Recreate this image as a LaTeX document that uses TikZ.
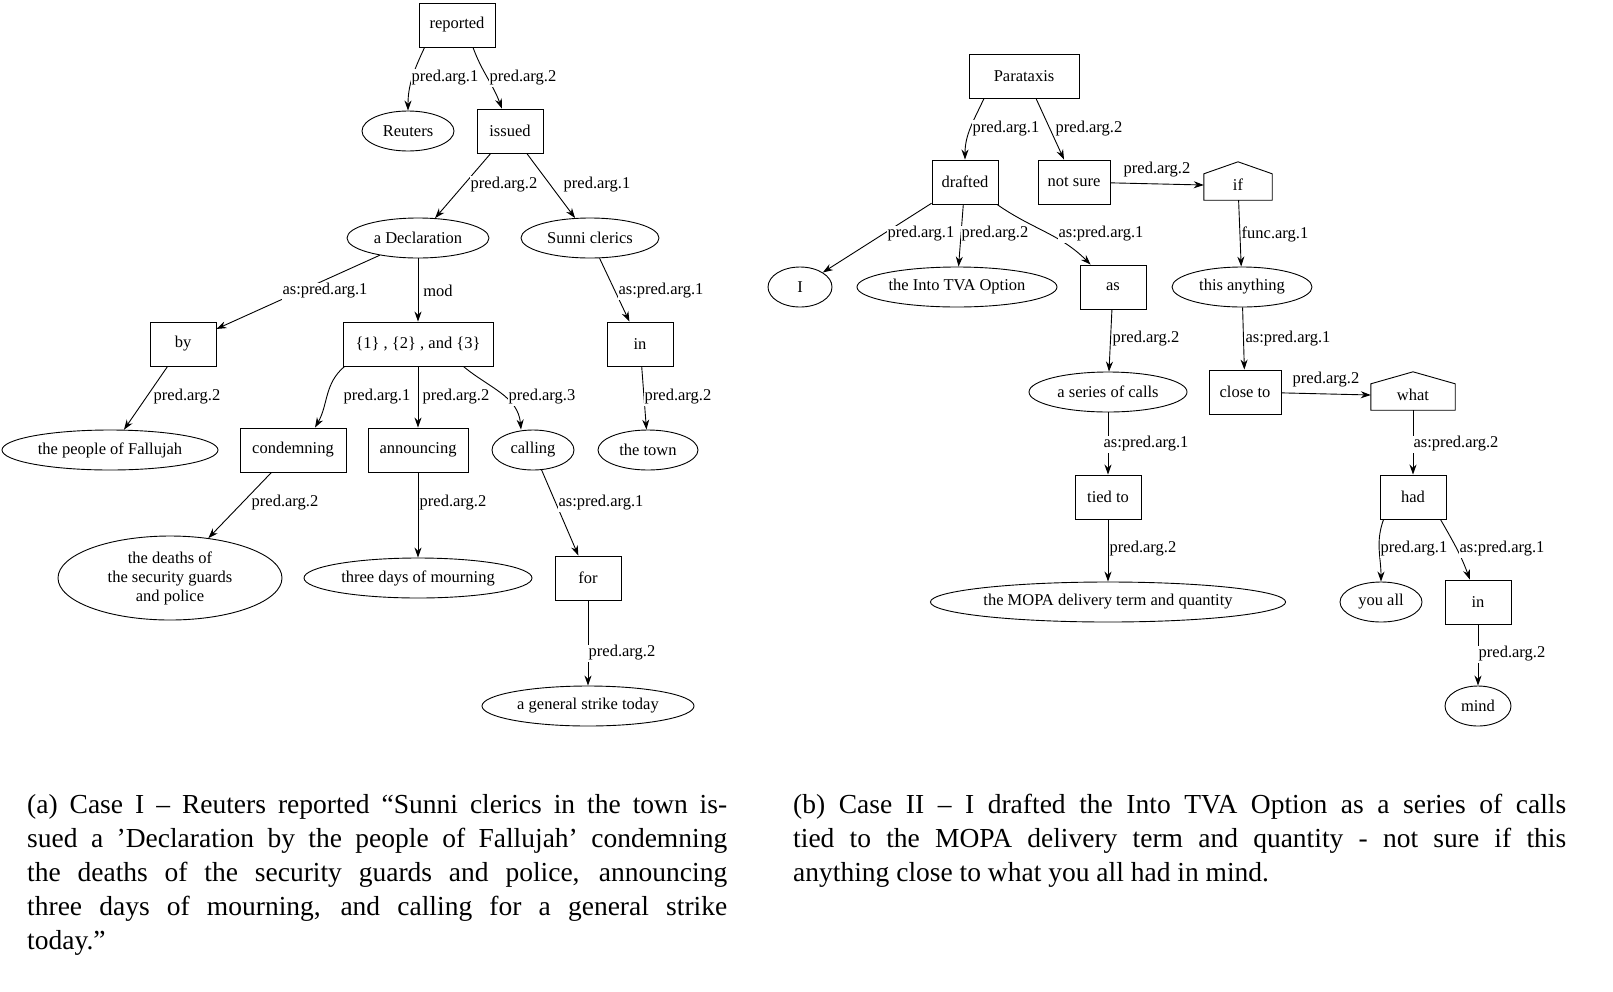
\documentclass[tikz,border=0pt]{standalone}
\usepackage{fontspec}
\setmainfont{Liberation Serif}
\usetikzlibrary{shapes.geometric,arrows.meta,calc}
\begin{document}
\begin{tikzpicture}[x=1pt,y=-1pt,
  every node/.style={font=\fontsize{16.5}{19}\selectfont},
  bx/.style={draw,rectangle,line width=0.9pt,minimum height=44pt,inner sep=2pt},
  el/.style={draw,ellipse,line width=0.9pt,minimum height=40pt,inner sep=1pt},
  hs/.style={rectangle,minimum height=30pt,inner sep=1pt},
  e/.style={line width=0.9pt,-{Stealth[length=10pt,width=7pt]}},
  lab/.style={inner sep=1pt,fill=white}]
\useasboundingbox (0,0) rectangle (1613,991);
% left
\node[bx,minimum width=76pt] (rep) at (457,25) {reported};
\node[el,minimum width=92pt] (reu) at (408,131) {Reuters};
\node[bx,minimum width=66pt] (iss) at (510,131) {issued};
\node[el,minimum width=142pt] (dec) at (418,238) {a Declaration};
\node[el,minimum width=138pt] (sun) at (590,238) {Sunni clerics};
\node[bx,minimum width=66pt] (by) at (183,344) {by};
\node[bx,minimum width=150pt] (set) at (418,344) {\{1\} , \{2\} , and \{3\}};
\node[bx,minimum width=66pt] (in1) at (640,344) {in};
\node[el,minimum width=216pt] (peo) at (110,450) {the people of Fallujah};
\node[bx,minimum width=106pt] (con) at (293,450) {condemning};
\node[bx,minimum width=100pt] (ann) at (418,450) {announcing};
\node[el,minimum width=82pt] (cal) at (533,450) {calling};
\node[el,minimum width=100pt] (town) at (648,450) {the town};
\node[el,minimum width=224pt,minimum height=84pt,align=center] (dea) at (170,578) {the deaths of\\the security guards\\and police};
\node[el,minimum width=228pt] (thr) at (418,578) {three days of mourning};
\node[bx,minimum width=66pt] (for) at (588,578) {for};
\node[el,minimum width=212pt] (gen) at (588,706) {a general strike today};

\draw[e] ($(rep.south west)+(6,0)$) to[out=-115,in=90] (reu);
\draw[e] ($(rep.south)+(16,0)$) to[out=-70,in=110] (iss);
\draw[e] (iss) -- (dec);
\draw[e] (iss) -- (sun);
\draw[e] (dec) -- (by);
\draw[e] (dec) -- (set);
\draw[e] (sun) -- (in1);
\draw[e] (by) -- (peo);
\draw[e] ($(set.south west)+(2,0)$) to[out=-140,in=60] ($(con.north)+(22,0)$);
\draw[e] (set) -- (ann);
\draw[e] ($(set.south east)+(-30,0)$) to[out=-40,in=95] ($(cal.north)+(-12,0)$);
\draw[e] (in1) -- (town);
\draw[e] (con) -- (dea);
\draw[e] (ann) -- (thr);
\draw[e] (cal) -- (for);
\draw[e] (for) -- (gen);

\node[lab] at (445,78) {pred.arg.1};
\node[lab] at (523,78) {pred.arg.2};
\node[lab] at (504,185) {pred.arg.2};
\node[lab] at (597,185) {pred.arg.1};
\node[lab] at (325,291) {as:pred.arg.1};
\node[lab] at (438,291) {mod};
\node[lab] at (661,291) {as:pred.arg.1};
\node[lab] at (187,397) {pred.arg.2};
\node[lab] at (377,397) {pred.arg.1};
\node[lab] at (456,397) {pred.arg.2};
\node[lab] at (542,397) {pred.arg.3};
\node[lab] at (678,397) {pred.arg.2};
\node[lab] at (285,503) {pred.arg.2};
\node[lab] at (453,503) {pred.arg.2};
\node[lab] at (601,503) {as:pred.arg.1};
\node[lab] at (622,653) {pred.arg.2};

% right
\node[bx,minimum width=110pt] (par) at (1024,76) {Parataxis};
\node[bx,minimum width=66pt] (dra) at (965,182) {drafted};
\node[bx,minimum width=72pt] (ns) at (1074,182) {not sure};
\node[hs,minimum width=68pt] (if) at (1238,185) {if};
\node[el,minimum width=64pt] (I) at (800,287) {I};
\node[el,minimum width=200pt] (tva) at (957,287) {the Into TVA Option};
\node[bx,minimum width=66pt] (as) at (1113,287) {as};
\node[el,minimum width=140pt] (tha) at (1242,287) {this anything};
\node[el,minimum width=158pt] (ser) at (1108,392) {a series of calls};
\node[bx,minimum width=72pt] (clo) at (1245,392) {close to};
\node[hs,minimum width=84pt] (wha) at (1413,395) {what};
\node[bx,minimum width=66pt] (tie) at (1108,497) {tied to};
\node[bx,minimum width=66pt] (had) at (1413,497) {had};
\node[el,minimum width=350pt] (mopa) at (1108,602) {the MOPA delivery term and quantity};
\node[el,minimum width=82pt] (you) at (1381,602) {you all};
\node[bx,minimum width=66pt] (in2) at (1478,602) {in};
\node[el,minimum width=66pt] (mind) at (1478,706) {mind};
\foreach \n in {if,wha}{
  \draw[line width=0.9pt] (\n.south west) -- (\n.south east) -- ($(\n.north east)+(0,4)$) -- ($(\n.north)+(0,-8)$) -- ($(\n.north west)+(0,4)$) -- cycle;}

\draw[e] ($(par.south)+(-40,0)$) to[out=-115,in=90] (dra);
\draw[e] ($(par.south)+(12,0)$) -- ($(ns.north)+(-10,0)$);
\draw[e] (ns) -- (if.west);
\draw[e] (dra) -- (I);
\draw[e] (dra) -- (tva);
\draw[e] (dra) to[out=-35,in=135] (as);
\draw[e] (if) -- (tha);
\draw[e] (as) -- (ser);
\draw[e] (tha) -- (clo);
\draw[e] (clo) -- (wha.west);
\draw[e] (ser) -- (tie);
\draw[e] (wha) -- (had);
\draw[e] (tie) -- (mopa);
\draw[e] ($(had.south west)+(4,0)$) to[out=-110,in=90] (you);
\draw[e] ($(had.south east)+(-6,0)$) to[out=-60,in=110] (in2);
\draw[e] (in2) -- (mind);

\node[lab] at (1006,129) {pred.arg.1};
\node[lab] at (1089,129) {pred.arg.2};
\node[lab] at (1157,170) {pred.arg.2};
\node[lab] at (921,234) {pred.arg.1};
\node[lab] at (995,234) {pred.arg.2};
\node[lab] at (1101,234) {as:pred.arg.1};
\node[lab] at (1275,234) {func.arg.1};
\node[lab] at (1146,339) {pred.arg.2};
\node[lab] at (1288,339) {as:pred.arg.1};
\node[lab] at (1326,380) {pred.arg.2};
\node[lab] at (1146,444) {as:pred.arg.1};
\node[lab] at (1456,444) {as:pred.arg.2};
\node[lab] at (1143,549) {pred.arg.2};
\node[lab] at (1414,549) {pred.arg.1};
\node[lab] at (1502,549) {as:pred.arg.1};
\node[lab] at (1512,654) {pred.arg.2};

% captions
\node[anchor=north west,inner sep=0pt,align=left,font=\fontsize{27.5}{34}\selectfont] (capa) at (27,794) {%
\makebox[700pt][s]{(a) Case I – Reuters reported “Sunni clerics in the town is-}\\
\makebox[700pt][s]{sued a ’Declaration by the people of Fallujah’ condemning}\\
\makebox[700pt][s]{the deaths of the security guards and police, announcing}\\
\makebox[700pt][s]{three days of mourning, and calling for a general strike}\\
today.”};
\node[anchor=north west,inner sep=0pt,align=left,font=\fontsize{27.5}{34}\selectfont] (capb) at (793,794) {%
\makebox[773pt][s]{(b) Case II – I drafted the Into TVA Option as a series of calls}\\
\makebox[773pt][s]{tied to the MOPA delivery term and quantity - not sure if this}\\
anything close to what you all had in mind.};
\end{tikzpicture}
\end{document}
